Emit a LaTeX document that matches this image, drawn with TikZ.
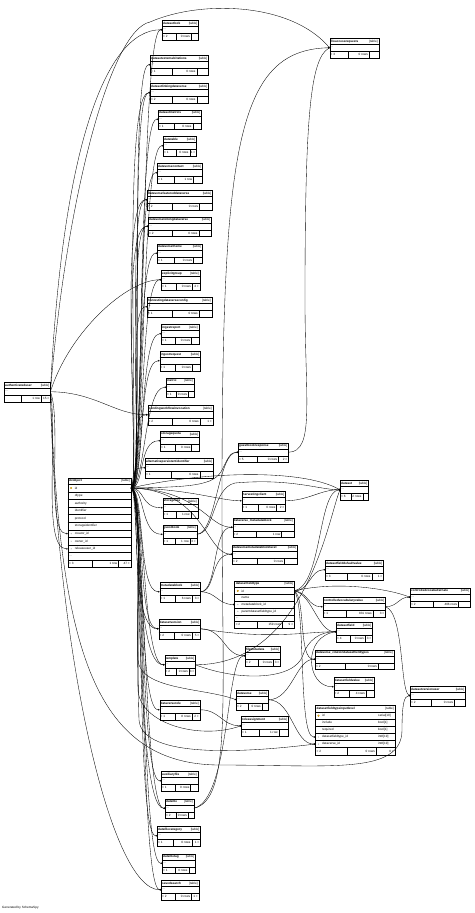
\documentclass[tikz,border=0pt]{standalone}
\usepackage{fontspec}
\setmainfont{Liberation Sans}
\usetikzlibrary{arrows.meta,calc}

% summary box of one table: node name, x, y, width, title, parents, rows, children
\newcommand{\dbtable}[8]{%
  \node[tblbox, minimum width=#4pt] (#1) at (#2,#3) {};
  \draw[tblline] ([yshift=-6.5pt]#1.north west) -- ([yshift=-6.5pt]#1.north east);
  \draw[tblline] ([yshift=6.5pt]#1.south west) -- ([yshift=6.5pt]#1.south east);
  \draw[tblline] ($(#1.south west)!0.38!(#1.south east)$) -- ++(0pt,6.5pt);
  \draw[tblline] ($(#1.south west)!0.8!(#1.south east)$) -- ++(0pt,6.5pt);
  \node[tbltext, anchor=west] (#1-title) at ([xshift=1pt,yshift=-3.25pt]#1.north west) {\textbf{#5}};
  \node[tbltext, anchor=east] (#1-kind) at ([xshift=-1pt,yshift=-3.25pt]#1.north east) {[table]};
  \node[tbltext, anchor=west] (#1-more) at ([xshift=1pt,yshift=-9.75pt]#1.north west) {...};
  \node[tbltext, anchor=west] (#1-up) at ([xshift=1pt,yshift=3.25pt]#1.south west) {#6};
  \node[tbltext, anchor=east] (#1-rows) at ($(#1.south west)!0.8!(#1.south east)+(-1pt,3.25pt)$) {#7};
  \node[tbltext, anchor=east] (#1-down) at ([xshift=-1pt,yshift=3.25pt]#1.south east) {#8};
  \coordinate (#1-l) at ([yshift=-9.75pt]#1.north west);
  \coordinate (#1-r) at ([yshift=-9.75pt]#1.north east);
}

% one column row of a detailed table: x, width, top, height, label, type, key style
\newcommand{\dbcol}[7]{%
  \draw[tblline] (#1,#3+#4) -- (#1+#2,#3+#4);
  \node[#7] at (#1+3.5,#3+#4/2) {};
  \node[tbltext, anchor=west] at (#1+7,#3+#4/2) {#5};
  \node[tbltext, anchor=west] at (#1+#2-17,#3+#4/2) {#6};
}

\begin{document}
\begin{tikzpicture}[
  x=1pt, y=-1pt,
  tblbox/.style={draw, line width=0.4pt, inner sep=0pt, minimum height=19.5pt, anchor=north west},
  tblline/.style={line width=0.3pt},
  tbltext/.style={font=\fontsize{3.1}{3.6}\selectfont, inner sep=0pt},
  pkey/.style={circle, fill=yellow!85!orange, draw=orange!60!black, line width=0.1pt, inner sep=0pt, minimum size=1.8pt},
  fkey/.style={circle, fill=gray!55, inner sep=0pt, minimum size=1.4pt},
  nokey/.style={inner sep=0pt},
  fk/.style={line width=0.35pt, -{Circle[open, length=1.6pt, width=1.6pt]}}
]
\useasboundingbox (0,0) rectangle (474,913);

% tables in the long column
\dbtable{datasetlock}{162}{20}{36}{datasetlock}{< 2}{0 rows}{}
\dbtable{datasetexternalcitations}{150}{55}{58}{datasetexternalcitations}{< 1}{0 rows}{}
\dbtable{datasetlinkingdataverse}{150}{83}{58}{datasetlinkingdataverse}{< 2}{0 rows}{}
\dbtable{datasetmetrics}{158}{109.5}{43}{datasetmetrics}{< 1}{0 rows}{}
\dbtable{datatable}{163}{136}{33}{datatable}{< 1}{0 rows}{1 >}
\dbtable{dataversecontact}{157}{163}{45}{dataversecontact}{< 1}{1 row}{}
\dbtable{dataversefeatureddataverse}{147}{190}{65}{dataversefeatureddataverse}{< 2}{0 rows}{}
\dbtable{dataverselinkingdataverse}{148}{216.5}{63}{dataverselinkingdataverse}{< 2}{0 rows}{}
\dbtable{dataversetheme}{157}{243.5}{45}{dataversetheme}{< 1}{0 rows}{}
\dbtable{explicitgroup}{161}{270}{38.5}{explicitgroup}{< 1}{0 rows}{4 >}
\dbtable{harvestingdataverseconfig}{147}{297}{64.5}{harvestingdataverseconfig}{< 1}{0 rows}{}
\dbtable{ingestreport}{161}{324}{37.5}{ingestreport}{< 1}{0 rows}{}
\dbtable{ingestrequest}{159.5}{351}{40.5}{ingestrequest}{< 1}{0 rows}{}
\dbtable{metric}{166}{377.5}{27.5}{metric}{< 1}{0 rows}{}
\dbtable{pendingworkflowinvocation}{147.5}{405}{65}{pendingworkflowinvocation}{< 2}{0 rows}{1 >}
\dbtable{storagequota}{160}{431}{39}{storagequota}{< 1}{0 rows}{}
\dbtable{altpersistentid}{145}{458}{68}{alternativepersistentidentifier}{< 1}{0 rows}{}
\dbtable{storageuse}{162.5}{498}{35}{storageuse}{< 1}{1 row}{}
\dbtable{guestbook}{162.5}{524.5}{34}{guestbook}{< 1}{1 row}{3 >}
\dbtable{metadatablock}{159.5}{582}{40.5}{metadatablock}{< 1}{6 rows}{3 >}
\dbtable{datasetversion}{158.5}{619}{41.5}{datasetversion}{< 2}{0 rows}{5 >}
\dbtable{template}{164.5}{655}{30.5}{template}{< 2}{0 rows}{3 >}
\dbtable{dataverserole}{159.5}{700}{40}{dataverserole}{< 1}{8 rows}{2 >}
\dbtable{auxiliaryfile}{161}{771}{36.5}{auxiliaryfile}{< 1}{0 rows}{}
\dbtable{datafile}{165}{798.5}{28.5}{datafile}{< 2}{0 rows}{}
\dbtable{datafilecategory}{157}{826}{43}{datafilecategory}{< 1}{0 rows}{1 >}
\dbtable{datafiletag}{162}{853.5}{33}{datafiletag}{< 1}{0 rows}{}
\dbtable{savedsearch}{161}{880}{37.5}{savedsearch}{< 2}{0 rows}{1 >}

% tables to the left and right
\dbtable{fileaccessrequests}{329.5}{38}{49}{fileaccessrequests}{< 3}{0 rows}{}
\dbtable{authenticateduser}{4}{382}{46}{authenticateduser}{}{1 row}{15 >}
\dbtable{guestbookresponse}{238}{442.5}{50}{guestbookresponse}{< 5}{0 rows}{2 >}
\dbtable{dataset}{340}{480}{28}{dataset}{< 6}{2 rows}{}
\dbtable{harvestingclient}{241.5}{491}{43.5}{harvestingclient}{< 1}{0 rows}{2 >}
\dbtable{dvmetadatablock}{232.5}{517.5}{61}{dataverse\_metadatablock}{< 2}{1 row}{}
\dbtable{dvblockfacet}{232}{544.5}{65}{dataversemetadatablockfacet}{< 2}{0 rows}{}
\dbtable{defaultvalue}{325}{560}{58}{datasetfielddefaultvalue}{< 3}{0 rows}{1 >}
\dbtable{vocabvalue}{322.5}{597}{62.5}{controlledvocabularyvalue}{< 1}{831 rows}{3 >}
\dbtable{vocabalternate}{410}{587.5}{60}{controlledvocabalternate}{< 2}{406 rows}{}
\dbtable{datasetfield}{336}{622}{36}{datasetfield}{< 4}{0 rows}{3 >}
\dbtable{filemetadata}{245}{646}{35}{filemetadata}{< 2}{0 rows}{3 >}
\dbtable{citationtypes}{315}{649.5}{78.5}{dataverse\_citationdatasetfieldtypes}{< 2}{0 rows}{}
\dbtable{fieldvalue}{333.5}{677}{40.5}{datasetfieldvalue}{< 2}{4 rows}{}
\dbtable{versionuser}{410}{686}{55}{datasetversionuser}{< 2}{0 rows}{}
\dbtable{dataverse}{236}{690}{32}{dataverse}{< 2}{0 rows}{}
\dbtable{roleassignment}{241}{716}{47}{roleassignment}{< 1}{1 row}{}

% dvobject with its columns
\node[tblbox, minimum width=63.3pt, minimum height=89pt] (dvobject) at (67.7,477.7) {};
\draw[tblline] (67.7,484.2) -- (131,484.2);
\node[tbltext, anchor=west] (dvobject-title) at (69,481) {\textbf{dvobject}};
\node[tbltext, anchor=east] (dvobject-kind) at (130,481) {[table]};
\dbcol{67.7}{63.3}{484.2}{7.6}{id}{}{pkey}
\dbcol{67.7}{63.3}{491.8}{7.6}{dtype}{}{nokey}
\dbcol{67.7}{63.3}{499.4}{7.6}{authority}{}{nokey}
\dbcol{67.7}{63.3}{507}{7.6}{identifier}{}{nokey}
\dbcol{67.7}{63.3}{514.6}{7.6}{protocol}{}{nokey}
\dbcol{67.7}{63.3}{522.2}{7.6}{storageidentifier}{}{nokey}
\dbcol{67.7}{63.3}{529.8}{7.6}{creator\_id}{}{fkey}
\dbcol{67.7}{63.3}{537.4}{7.6}{owner\_id}{}{fkey}
\dbcol{67.7}{63.3}{545}{7.6}{releaseuser\_id}{}{fkey}
\node[tbltext, anchor=west] (dvobject-more) at (69,556.4) {...};
\draw[tblline] (67.7,560.2) -- (131,560.2);
\draw[tblline] (91.8,560.2) -- (91.8,566.7);
\draw[tblline] (118.3,560.2) -- (118.3,566.7);
\node[tbltext, anchor=west] (dvobject-up) at (69,563.45) {< 3};
\node[tbltext, anchor=east] (dvobject-rows) at (117.3,563.45) {1 row};
\node[tbltext, anchor=east] (dvobject-down) at (130,563.45) {47 >};
\coordinate (dvobject-id) at (131,488);
\coordinate (dvobject-creator) at (67.7,533.6);
\coordinate (dvobject-release) at (67.7,548.8);

% datasetfieldtype with its columns
\node[tblbox, minimum width=60pt, minimum height=47.6pt] (dft) at (234.3,580.7) {};
\draw[tblline] (234.3,587.5) -- (294.3,587.5);
\node[tbltext, anchor=west] (dft-title) at (235.6,584.1) {\textbf{datasetfieldtype}};
\node[tbltext, anchor=east] (dft-kind) at (293.3,584.1) {[table]};
\dbcol{234.3}{60}{587.5}{6.8}{id}{}{pkey}
\dbcol{234.3}{60}{594.3}{6.8}{name}{}{nokey}
\dbcol{234.3}{60}{601.1}{6.8}{metadatablock\_id}{}{fkey}
\dbcol{234.3}{60}{607.9}{6.8}{parentdatasetfieldtype\_id}{}{fkey}
\node[tbltext, anchor=west] (dft-more) at (235.6,618.1) {...};
\draw[tblline] (234.3,621.5) -- (294.3,621.5);
\draw[tblline] (257.1,621.5) -- (257.1,628.3);
\draw[tblline] (282.3,621.5) -- (282.3,628.3);
\node[tbltext, anchor=west] (dft-up) at (235.6,624.9) {< 2};
\node[tbltext, anchor=east] (dft-rows) at (281.3,624.9) {159 rows};
\node[tbltext, anchor=east] (dft-down) at (293.3,624.9) {9 >};
\coordinate (dft-id) at (294.3,590.9);
\coordinate (dft-mb) at (234.3,604.5);

% datasetfieldtypeinputlevel with its columns
\node[tblbox, minimum width=80pt, minimum height=50pt, line width=0.9pt] (dftil) at (315,705) {};
\draw[tblline] (315,712.1) -- (395,712.1);
\node[tbltext, anchor=west] (dftil-title) at (316.5,708.5) {\textbf{datasetfieldtypeinputlevel}};
\node[tbltext, anchor=east] (dftil-kind) at (394,708.5) {[table]};
\dbcol{315}{80}{712.1}{7.1}{id}{serial[10]}{pkey}
\dbcol{315}{80}{719.2}{7.1}{include}{bool[1]}{nokey}
\dbcol{315}{80}{726.3}{7.1}{required}{bool[1]}{nokey}
\dbcol{315}{80}{733.4}{7.1}{datasetfieldtype\_id}{int8[19]}{fkey}
\dbcol{315}{80}{740.5}{7.1}{dataverse\_id}{int8[19]}{fkey}
\draw[tblline] (347,747.6) -- (347,755);
\draw[tblline] (376,747.6) -- (376,755);
\node[tbltext, anchor=west] (dftil-up) at (316.5,751.3) {< 2};
\node[tbltext, anchor=east] (dftil-rows) at (375,751.3) {0 rows};
\node[tbltext, anchor=east] (dftil-down) at (394,751.3) {0 >};
\coordinate (dftil-dft) at (315,736.95);
\coordinate (dftil-dv) at (315,744.05);

\node[tbltext, anchor=west] (credit) at (2,908) {Generated by SchemaSpy};

% authenticateduser to its children
\draw[fk] (authenticateduser-r) .. controls (62,150) and (105,29.75) .. (datasetlock-l);
\draw[fk] (authenticateduser-r) .. controls (66,200) and (110,30) .. (150,22) .. controls (200,0) and (290,2) .. (fileaccessrequests-l);
\draw[fk] (authenticateduser-r) .. controls (70,330) and (128,279.75) .. (explicitgroup-l);
\draw[fk] (authenticateduser-r) .. controls (95,392) and (115,414.75) .. (pendingworkflowinvocation-l);
\draw[fk] (authenticateduser-r) .. controls (62,420) and (45,533.6) .. (dvobject-creator);
\draw[fk] (authenticateduser-r) .. controls (58,440) and (42,548.8) .. (dvobject-release);
\draw[fk] (authenticateduser-r) .. controls (56,650) and (110,889.75) .. (savedsearch-l);
\draw[fk] (authenticateduser-r) .. controls (60,640) and (90,765) .. (220,765) .. controls (330,765) and (402,775) .. (402,730) .. controls (402,705) and (404,695.75) .. (versionuser-l);

% dvobject to the column
\draw[fk] (dvobject-id) .. controls +(14,0) and +(-22,0) .. (datasetlock-l);
\draw[fk] (dvobject-id) .. controls +(14,0) and +(-22,0) .. (datasetexternalcitations-l);
\draw[fk] (dvobject-id) .. controls +(14,0) and +(-22,0) .. (datasetlinkingdataverse-l);
\draw[fk] (dvobject-id) .. controls +(10,0) and +(-30,0) .. (datasetlinkingdataverse-l);
\draw[fk] (dvobject-id) .. controls +(14,0) and +(-22,0) .. (datasetmetrics-l);
\draw[fk] (dvobject-id) .. controls +(14,0) and +(-22,0) .. (datatable-l);
\draw[fk] (dvobject-id) .. controls +(14,0) and +(-22,0) .. (dataversecontact-l);
\draw[fk] (dvobject-id) .. controls +(14,0) and +(-22,0) .. (dataversefeatureddataverse-l);
\draw[fk] (dvobject-id) .. controls +(10,0) and +(-30,0) .. (dataversefeatureddataverse-l);
\draw[fk] (dvobject-id) .. controls +(14,0) and +(-22,0) .. (dataverselinkingdataverse-l);
\draw[fk] (dvobject-id) .. controls +(10,0) and +(-30,0) .. (dataverselinkingdataverse-l);
\draw[fk] (dvobject-id) .. controls +(14,0) and +(-22,0) .. (dataversetheme-l);
\draw[fk] (dvobject-id) .. controls +(14,0) and +(-22,0) .. (explicitgroup-l);
\draw[fk] (dvobject-id) .. controls +(14,0) and +(-22,0) .. (harvestingdataverseconfig-l);
\draw[fk] (dvobject-id) .. controls +(14,0) and +(-22,0) .. (ingestreport-l);
\draw[fk] (dvobject-id) .. controls +(14,0) and +(-22,0) .. (ingestrequest-l);
\draw[fk] (dvobject-id) .. controls +(14,0) and +(-22,0) .. (metric-l);
\draw[fk] (dvobject-id) .. controls +(14,0) and +(-22,0) .. (pendingworkflowinvocation-l);
\draw[fk] (dvobject-id) .. controls +(14,0) and +(-22,0) .. (storagequota-l);
\draw[fk] (dvobject-id) .. controls +(14,0) and +(-22,0) .. (altpersistentid-l);
\draw[fk] (dvobject-id) .. controls +(14,0) and +(-22,0) .. (storageuse-l);
\draw[fk] (dvobject-id) .. controls +(14,0) and +(-22,0) .. (guestbook-l);
\draw[fk] (dvobject-id) .. controls +(14,0) and +(-22,0) .. (metadatablock-l);
\draw[fk] (dvobject-id) .. controls +(14,0) and +(-22,0) .. (datasetversion-l);
\draw[fk] (dvobject-id) .. controls +(10,0) and +(-30,0) .. (datasetversion-l);
\draw[fk] (dvobject-id) .. controls +(14,0) and +(-22,0) .. (template-l);
\draw[fk] (dvobject-id) .. controls +(10,0) and +(-30,0) .. (template-l);
\draw[fk] (dvobject-id) .. controls +(14,0) and +(-22,0) .. (dataverserole-l);
\draw[fk] (dvobject-id) .. controls +(14,0) and +(-22,0) .. (auxiliaryfile-l);
\draw[fk] (dvobject-id) .. controls +(14,0) and +(-22,0) .. (datafile-l);
\draw[fk] (dvobject-id) .. controls +(10,0) and +(-30,0) .. (datafile-l);
\draw[fk] (dvobject-id) .. controls +(14,0) and +(-22,0) .. (datafilecategory-l);
\draw[fk] (dvobject-id) .. controls +(14,0) and +(-22,0) .. (datafiletag-l);
\draw[fk] (dvobject-id) .. controls +(14,0) and +(-22,0) .. (savedsearch-l);

% fileaccessrequests parents
\draw[fk] (datafile-r) .. controls (232,800) and (222,700) .. (222,500) .. controls (222,150) and (236,50) .. (fileaccessrequests-l);
\draw[fk] (guestbookresponse-r) .. controls (315,452) and (305,400) .. (305,300) .. controls (305,120) and (310,60) .. (fileaccessrequests-l);

% dataset parents
\draw[fk] (dvobject-id) .. controls (200,472) and (300,468) .. (dataset-l);
\draw[fk] (guestbook-r) .. controls (215,534) and (212,488) .. (235,483) .. controls (290,478) and (320,489.75) .. (dataset-l);
\draw[fk] (harvestingclient-r) .. controls (308,500.75) and (320,489.75) .. (dataset-l);
\draw[fk] (dft-id) .. controls (322,585) and (318,492) .. (dataset-l);
\draw[fk] (template-r) .. controls (305,664.75) and (328,520) .. (dataset-l);

% right-hand tables
\draw[fk] (dvobject-id) .. controls (190,487) and (214,486) .. (222,470) .. controls (228,458) and (230,452.25) .. (guestbookresponse-l);
\draw[fk] (guestbook-r) .. controls (216,534.25) and (218,452.25) .. (guestbookresponse-l);
\draw[fk] (dvobject-id) .. controls (190,489) and (220,500.75) .. (harvestingclient-l);
\draw[fk] (dvobject-id) .. controls (200,490) and (208,527.25) .. (dvmetadatablock-l);
\draw[fk] (dvobject-id) .. controls (205,490) and (206,554.25) .. (dvblockfacet-l);
\draw[fk] (metadatablock-r) .. controls (218,591.75) and (212,527.25) .. (dvmetadatablock-l);
\draw[fk] (metadatablock-r) .. controls (216,591.75) and (210,554.25) .. (dvblockfacet-l);
\draw[fk] (metadatablock-r) .. controls (216,591.75) and (218,604.5) .. (dft-mb);
\draw[fk] (datasetversion-r) .. controls (224,628.75) and (224,655.75) .. (filemetadata-l);
\draw[fk] (datafile-r) .. controls (230,800) and (226,655.75) .. (filemetadata-l);
\draw[fk] (datasetversion-r) .. controls (270,640) and (305,631.75) .. (datasetfield-l);
\draw[fk] (template-r) .. controls (240,682) and (295,680) .. (303,655) .. controls (308,640) and (320,631.75) .. (datasetfield-l);
\draw[fk] (dataverserole-r) .. controls (220,709.75) and (222,725.75) .. (roleassignment-l);
\draw[fk] (dvobject-id) .. controls +(12,0) and (136,600) .. (138,690) .. controls (140,724) and (200,740) .. (roleassignment-l);
\draw[fk] (dvobject-id) .. controls +(12,0) and (136,580) .. (138,660) .. controls (140,690) and (205,688) .. (dataverse-l);
\draw[fk] (dvobject-id) .. controls +(12,0) and (136,620) .. (139,720) .. controls (142,760) and (250,752) .. (dftil-dv);
\draw[fk] (dataverse-r) .. controls (292,699.75) and (296,659.25) .. (citationtypes-l);
\draw[fk] (dataverse-r) .. controls (292,699.75) and (294,744.05) .. (dftil-dv);

% datasetfieldtype to its children
\draw[fk] (dft-id) .. controls (310,590.9) and (310,569.75) .. (defaultvalue-l);
\draw[fk] (dft-id) .. controls (308,592) and (308,606.75) .. (vocabvalue-l);
\draw[fk] (dft-id) .. controls (312,594) and (318,631.75) .. (datasetfield-l);
\draw[fk] (dft-id) .. controls (306,598) and (298,659.25) .. (citationtypes-l);
\draw[fk] (dft-id) .. controls (306,605) and (298,736.95) .. (dftil-dft);
\draw[fk] (dft-id) .. controls (340,580) and (392,590) .. (vocabalternate-l);
\draw[fk] (vocabvalue-r) .. controls (398,606.75) and (398,597.25) .. (vocabalternate-l);
\draw[fk] (vocabvalue-r) .. controls (404,612) and (400,690) .. (versionuser-l);
\draw[fk] (datasetfield-l) .. controls (302,636) and (306,686.75) .. (fieldvalue-l);
\end{tikzpicture}
\end{document}
